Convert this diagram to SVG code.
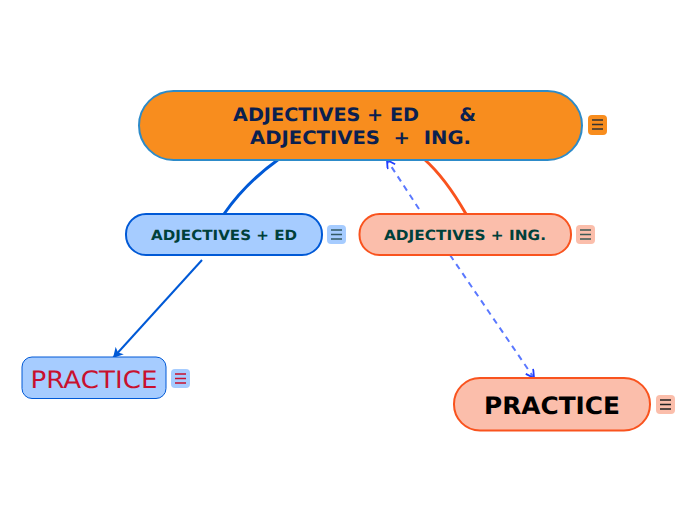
<svg xmlns="http://www.w3.org/2000/svg" width="696" height="520" viewBox="0 0 696 520">
<style>
text{font-family:"DejaVu Sans","Liberation Sans",sans-serif;text-anchor:middle;white-space:pre;text-rendering:geometricPrecision}
.b{font-weight:bold}
.ic{stroke-width:1.3;fill:none}
</style>
<defs>
<marker id="solid" markerUnits="userSpaceOnUse" markerWidth="12" markerHeight="12" refX="10" refY="5.500" orient="auto"><path d="M0 0L10 5.500L0 11L2.500 5.500Z" fill="#0059d6"/></marker>
<marker id="open" markerUnits="userSpaceOnUse" markerWidth="12" markerHeight="12" refX="9" refY="5" orient="auto-start-reverse"><path d="M1 0.500L9 5L1 9.500" fill="none" stroke="#1f3dff" stroke-width="1.800"/></marker>
</defs>
<g id="connectors" fill="none">
<path d="M279 159C258 174 240 191 224 214" stroke="#0059d6" stroke-width="3"/>
<path d="M424 159C441 174 454 193 466 214" stroke="#f9531e" stroke-width="3"/>
<path d="M202 260L113 358" stroke="#0059d6" stroke-width="2" marker-end="url(#solid)"/>
<path d="M419 209L387 160" stroke="#5a78ff" stroke-width="2" stroke-dasharray="6 5" marker-end="url(#open)"/>
<path d="M450 255L534 378" stroke="#5a78ff" stroke-width="2" stroke-dasharray="6 5" marker-end="url(#open)"/>
</g>
<g id="root">
<rect x="139" y="91" width="443" height="69" rx="34.500" fill="#f88d1e" stroke="#2d8bc9" stroke-width="2"/>
<text class="b" font-size="18.500" fill="#0a2050" x="354.500" y="121" textLength="243" lengthAdjust="spacingAndGlyphs">ADJECTIVES + ED      &amp;</text>
<text class="b" font-size="18.500" fill="#0a2050" x="360.500" y="144" textLength="221" lengthAdjust="spacingAndGlyphs">ADJECTIVES  +  ING.</text>
<rect x="588" y="115" width="19" height="20" rx="4" fill="#f88d1e"/>
<path class="ic" d="M592 120H603M592 124.500H603M592 129H603" stroke="#333"/>
</g>
<g id="node-ed">
<rect x="126" y="214" width="196" height="41" rx="20" fill="#a6ccff" stroke="#0059d6" stroke-width="2"/>
<text class="b" font-size="14" fill="#00403a" x="224" y="240" textLength="146" lengthAdjust="spacingAndGlyphs">ADJECTIVES + ED</text>
<rect x="327" y="225" width="19" height="19" rx="4" fill="#a6ccff"/>
<path class="ic" d="M331 230H342M331 234.500H342M331 239H342" stroke="#335a66"/>
</g>
<g id="node-ing">
<rect x="359.500" y="214" width="211.500" height="41" rx="20" fill="#fbbeab" stroke="#f9531e" stroke-width="2"/>
<text class="b" font-size="14" fill="#00403a" x="465" y="240" textLength="162" lengthAdjust="spacingAndGlyphs">ADJECTIVES + ING.</text>
<rect x="576" y="225" width="19" height="19" rx="4" fill="#fbbeab"/>
<path class="ic" d="M580 230H591M580 234.500H591M580 239H591" stroke="#3d5a55"/>
</g>
<g id="practice-left">
<rect x="22" y="357" width="144" height="41.500" rx="10" fill="#a6ccff" stroke="#0059d6" stroke-width="1"/>
<text font-size="24" fill="#c8102e" x="94" y="388" textLength="127" lengthAdjust="spacingAndGlyphs">PRACTICE</text>
<rect x="171" y="369" width="19" height="19" rx="4" fill="#a6ccff"/>
<path class="ic" d="M175 374H186M175 378.500H186M175 383H186" stroke="#c8102e"/>
</g>
<g id="practice-right">
<rect x="454" y="378" width="196" height="52.500" rx="26" fill="#fbbeab" stroke="#f9531e" stroke-width="2"/>
<text class="b" font-size="24" fill="#000" x="552" y="414" textLength="136" lengthAdjust="spacingAndGlyphs">PRACTICE</text>
<rect x="656" y="395" width="19" height="19" rx="4" fill="#fbbeab"/>
<path class="ic" d="M660 400H671M660 404.500H671M660 409H671" stroke="#222"/>
</g>
</svg>
